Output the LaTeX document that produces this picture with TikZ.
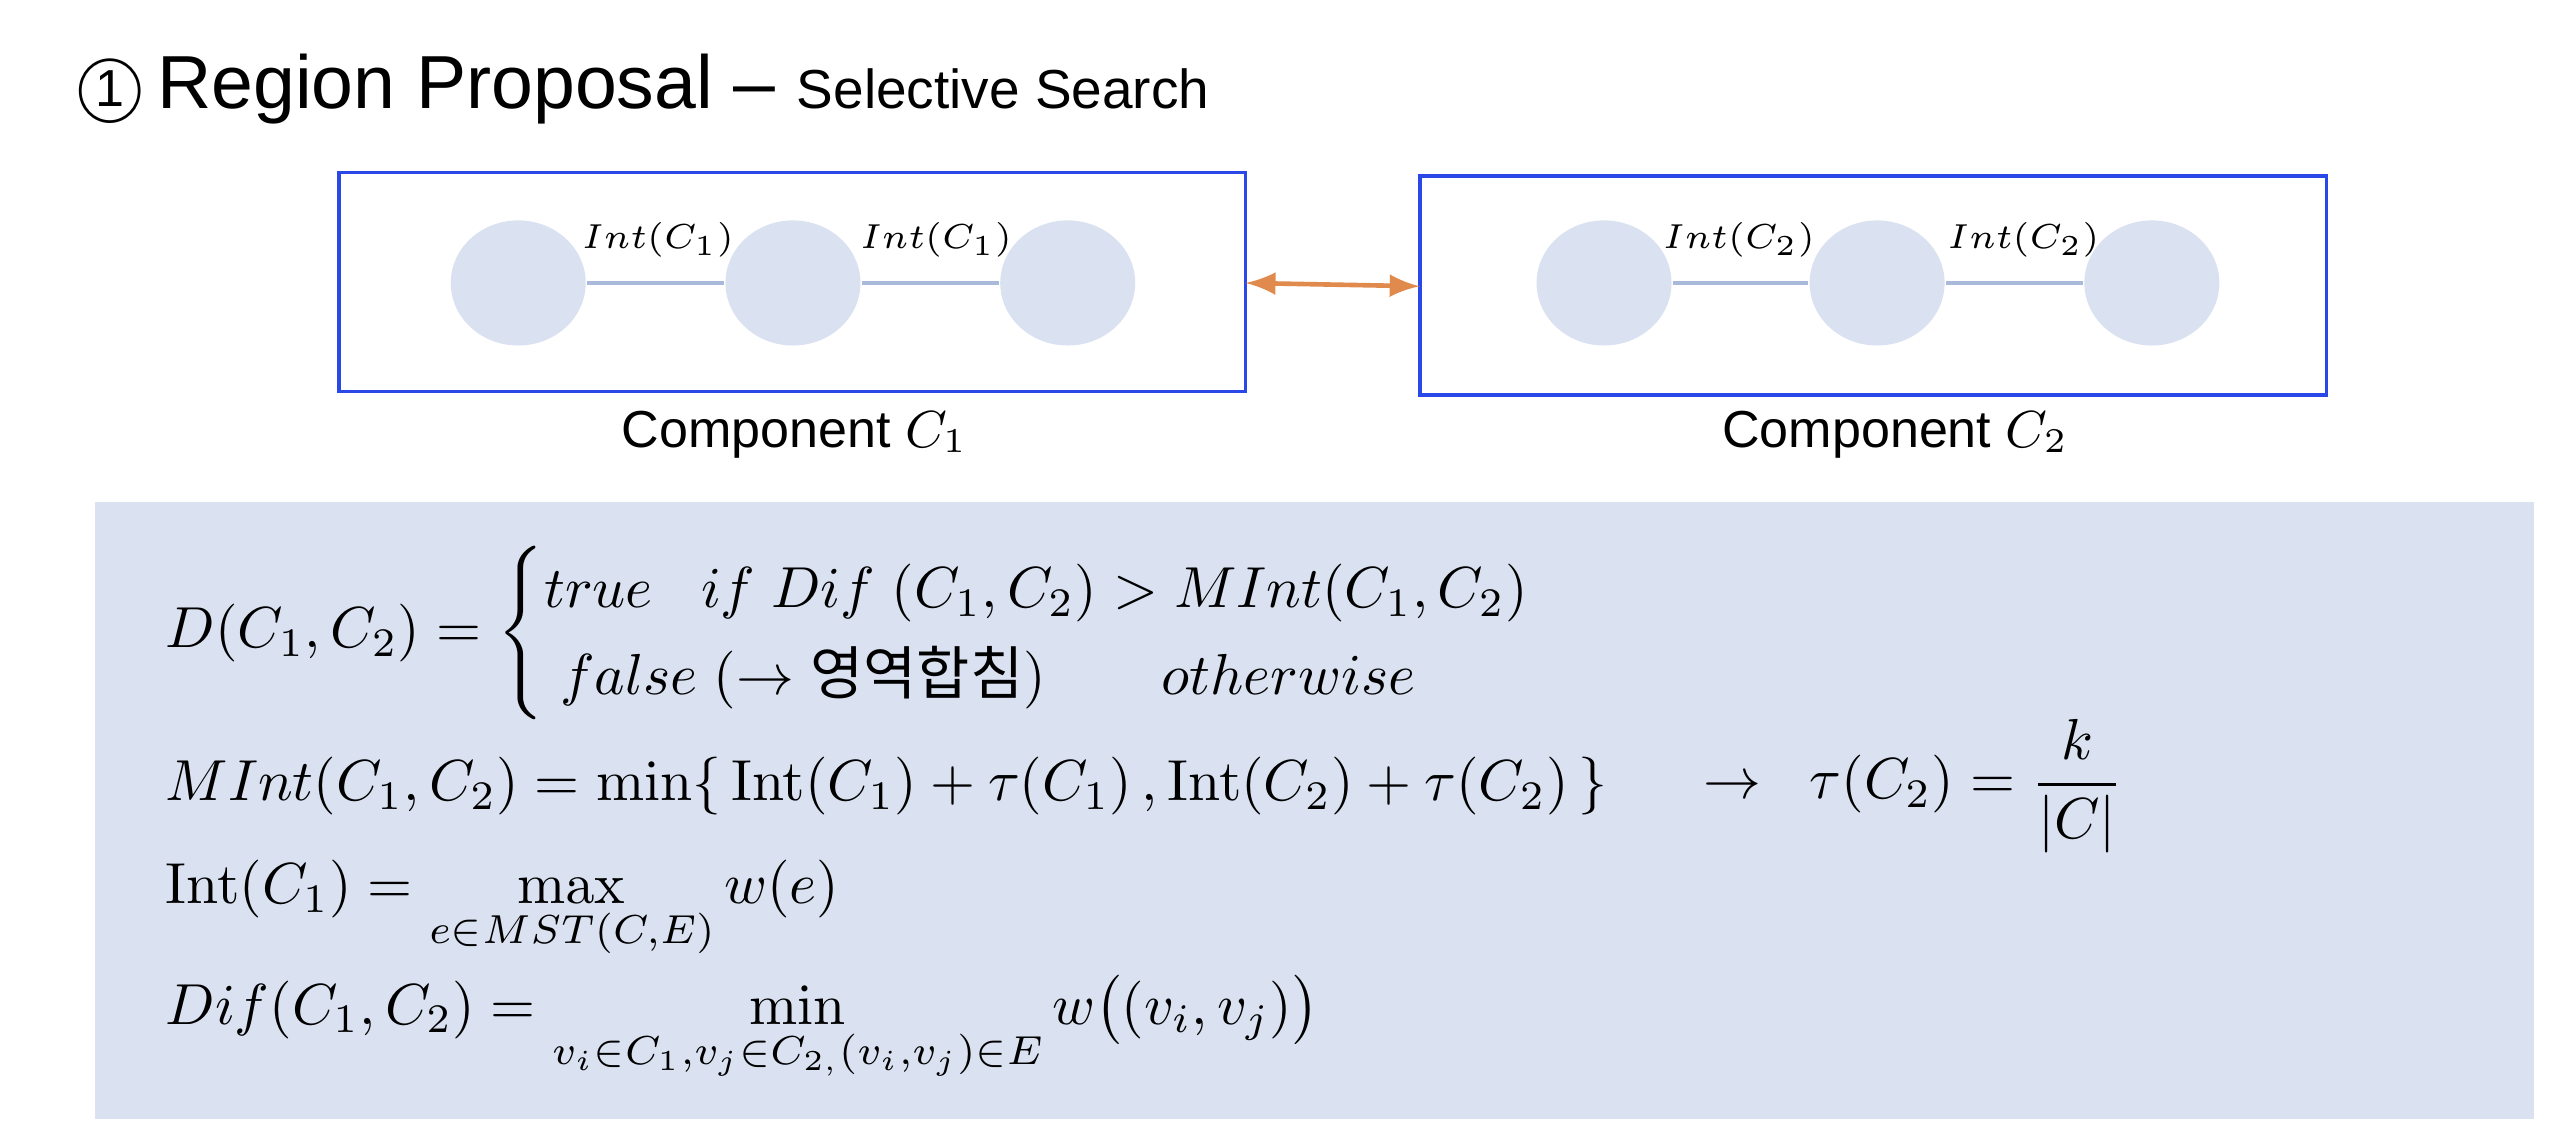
\documentclass[tikz,border=0pt]{standalone}
\usepackage{amsmath}
\usepackage[no-math]{fontspec}
\setmainfont{Liberation Sans}
\newfontfamily\cjk{Noto Sans CJK KR}
\usetikzlibrary{shapes.geometric}
\definecolor{pale}{HTML}{DAE2F1}
\definecolor{edgec}{HTML}{A9B9DA}
\definecolor{boxc}{HTML}{2A48E8}
\definecolor{arr}{HTML}{E08A4E}
\begin{document}
\begin{tikzpicture}[x=0.01cm,y=-0.01cm,
  box/.style={draw=boxc,line width=0.6pt,fill=white},
  blob/.style={ellipse,fill=pale,minimum width=0.82cm,minimum height=0.76cm,inner sep=0pt},
  edge/.style={draw=edgec,line width=0.6pt},
  lab/.style={font=\fontsize{6}{7}\selectfont},
  eq/.style={anchor=west,inner sep=0pt,font=\fontsize{10}{12.5}\selectfont}]
\useasboundingbox (0,0) rectangle (1550,688);
\node[anchor=west,inner sep=0pt] (title) at (45,54) {\fontsize{13}{16}\selectfont \textcircled{\fontsize{9}{10}\selectfont 1}\,Region Proposal -- \fontsize{9.5}{12}\selectfont Selective Search};
\draw[box] (206,105) rectangle (757,238);
\draw[box] (863,107) rectangle (1414,240);
\coordinate (b1r) at (757,172);
\coordinate (b2l) at (863,174);
\foreach \n/\x in {a/315,b/482,c/649,d/975,e/1141,f/1308}
  \node[blob] (\n) at (\x,172) {};
\draw[edge] (a)--(b) (b)--(c) (d)--(e) (e)--(f);
\node[lab] (l1) at (400,146) {$Int(C_1)$};
\node[lab] (l2) at (569,146) {$Int(C_1)$};
\node[lab] (l3) at (1057,146) {$Int(C_2)$};
\node[lab] (l4) at (1230,146) {$Int(C_2)$};
\draw[<->,>=latex,draw=arr,line width=0.8pt] (b1r)--(b2l);
\node[font=\fontsize{9}{11}\selectfont] (c1) at (483,264) {Component $C_1$};
\node[font=\fontsize{9}{11}\selectfont] (c2) at (1152,264) {Component $C_2$};
\fill[pale] (58,305) rectangle (1540,680);
\node[eq] (e1) at (100,385) {$D(C_1,C_2)=\begin{cases}true\ \ \ if\ Dif\ (C_1,C_2)>MInt(C_1,C_2)\\ \ false\ (\rightarrow\text{\cjk 영역합침})\qquad otherwise\end{cases}$};
\node[eq] (e2) at (100,478) {$MInt(C_1,C_2)=\min\{\,\mathrm{Int}(C_1)+\tau(C_1)\,,\mathrm{Int}(C_2)+\tau(C_2)\,\}$};
\node[eq] (e3) at (1035,478) {$\rightarrow\ \ \tau(C_2)=\dfrac{k}{|C|}$};
\node[eq] (e4) at (100,553) {$\mathrm{Int}(C_1)=\max\limits_{e\in MST(C,E)}w(e)$};
\node[eq] (e5) at (100,625) {$Dif(C_1,C_2)=\min\limits_{v_i\in C_1,v_j\in C_{2,}(v_i,v_j)\in E}w\big((v_i,v_j)\big)$};
\end{tikzpicture}
\end{document}
